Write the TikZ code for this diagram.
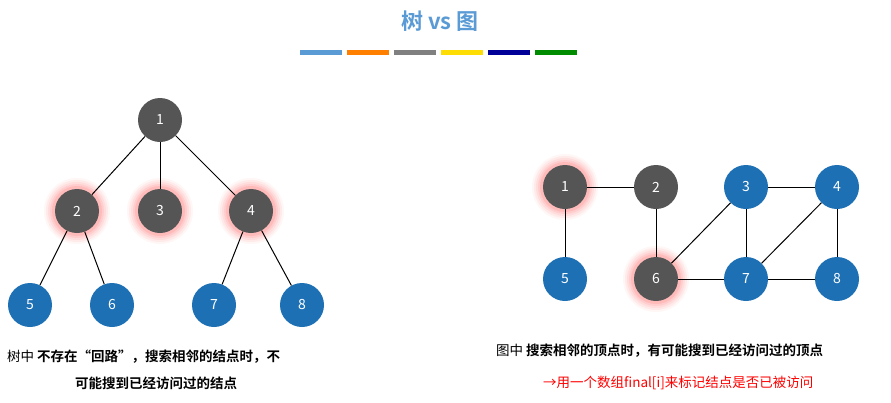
\documentclass[tikz,border=0pt]{standalone}
\usepackage{fontspec}
\setmainfont{Noto Sans CJK SC}
\newfontfamily\cjkb{Noto Sans CJK SC Bold}
\begin{document}
\begin{tikzpicture}[x=1pt,y=-1pt,
  gn/.style={circle,fill=gnfill,minimum size=44pt,inner sep=0pt,text=white,font=\fontsize{14}{14}\selectfont},
  bn/.style={circle,fill=bnfill,minimum size=44pt,inner sep=0pt,text=white,font=\fontsize{14}{14}\selectfont},
  ed/.style={draw=black,line width=1pt}]
\definecolor{gnfill}{RGB}{85,85,85}
\definecolor{bnfill}{RGB}{30,112,180}
\definecolor{ttl}{RGB}{91,155,213}
\definecolor{glowc}{RGB}{255,90,90}
\useasboundingbox (0,0) rectangle (891,402);
\fill[white] (0,0) rectangle (891,402);
\newcommand{\glowat}[1]{\foreach \r/\o in {33/0.05,31/0.07,29/0.09,27/0.12,25/0.16}{\fill[glowc,opacity=\o] #1 circle (\r pt);}}
\node[font=\cjkb\fontsize{22}{22}\selectfont,text=ttl] (title) at (440,21) {树 vs 图};
\foreach \c/\i in {ttl/0,orange/1,gray/2,yellow!80!orange/3,blue!60!black/4,green!55!black/5}{
  \fill[\c] (300+\i*47,50) rectangle (342+\i*47,55);}
% tree
\glowat{(77,211)}\glowat{(160,211)}\glowat{(251,211)}
\node[gn] (t1) at (160,120) {1};
\node[gn] (t2) at (77,211) {2};
\node[gn] (t3) at (160,211) {3};
\node[gn] (t4) at (251,211) {4};
\node[bn] (t5) at (30,305) {5};
\node[bn] (t6) at (112,305) {6};
\node[bn] (t7) at (214,305) {7};
\node[bn] (t8) at (302,305) {8};
\foreach \a/\b in {t1/t2,t1/t3,t1/t4,t2/t5,t2/t6,t4/t7,t4/t8}{\draw[ed] (\a)--(\b);}
% graph
\glowat{(565,187)}\glowat{(656,279)}
\node[gn] (g1) at (565,187) {1};
\node[gn] (g2) at (656,187) {2};
\node[bn] (g3) at (746,187) {3};
\node[bn] (g4) at (837,187) {4};
\node[bn] (g5) at (565,279) {5};
\node[gn] (g6) at (656,279) {6};
\node[bn] (g7) at (746,279) {7};
\node[bn] (g8) at (837,279) {8};
\foreach \a/\b in {g1/g2,g1/g5,g2/g6,g3/g4,g3/g7,g3/g6,g4/g7,g4/g8,g6/g7,g7/g8}{\draw[ed] (\a)--(\b);}
% texts
\node[anchor=west,inner sep=0pt,font=\fontsize{13.5}{13.5}\selectfont] (tx1) at (7,357) {树中 {\cjkb 不存在“回路”，搜索相邻的结点时，不}};
\node[anchor=west,inner sep=0pt,font=\cjkb\fontsize{13.5}{13.5}\selectfont] (tx2) at (75,383) {可能搜到已经访问过的结点};
\node[anchor=west,inner sep=0pt,font=\fontsize{13.5}{13.5}\selectfont] (tx3) at (496,351) {图中 {\cjkb 搜索相邻的顶点时，有可能搜到已经访问过的顶点}};
\node[anchor=west,inner sep=0pt,text=red,font=\fontsize{13.5}{13.5}\selectfont] (tx4) at (543,383) {→用一个数组final[i]来标记结点是否已被访问};
\end{tikzpicture}
\end{document}
